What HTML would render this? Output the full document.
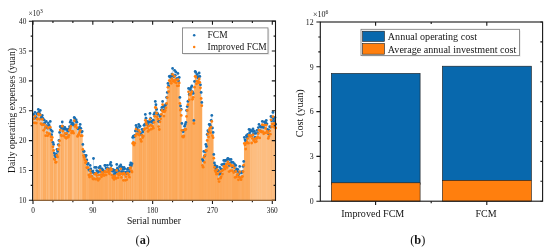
<!DOCTYPE html>
<html><head><meta charset="utf-8"><title>Figure</title>
<style>html,body{margin:0;padding:0;background:#fff}</style></head>
<body>
<svg width="550" height="250" viewBox="0 0 550 250" style="display:block">
<rect width="550" height="250" fill="#fff"/>
<path d="M33.66 114.40V118.81M34.33 118.53V122.83M34.99 112.40V116.21M35.66 116.81V122.77M36.32 117.92V123.12M36.99 114.18V119.14M37.65 113.25V118.79M38.32 109.40V113.91M38.98 111.77V114.79M39.65 113.72V119.32M40.31 110.40V114.92M40.98 118.06V123.53M41.64 116.49V124.59M42.31 115.40V119.38M42.97 118.37V124.87M43.64 123.83V130.37M44.30 120.06V124.61M44.96 122.84V128.43M45.63 127.30V135.63M46.29 121.40V126.28M46.96 125.60V132.52M47.62 128.05V135.67M48.29 123.01V128.00M48.95 125.24V133.68M49.62 127.76V134.21M50.28 121.40V127.16M50.95 129.80V136.73M51.61 134.71V140.04M52.28 131.40V137.40M52.94 142.32V146.83M53.61 144.40V150.40M54.27 153.10V159.08M54.94 155.40V159.73M55.60 156.94V162.35M56.26 154.17V162.09M56.93 149.40V155.40M57.59 151.44V157.10M58.26 144.52V149.45M58.92 140.40V145.47M59.59 132.45V140.85M60.25 126.40V130.02M60.92 127.19V135.08M61.58 128.10V135.82M62.25 122.00V126.23M62.91 126.28V131.20M63.58 129.48V135.61M64.24 128.71V136.13M64.91 127.40V133.40M65.57 129.23V137.69M66.23 133.82V138.37M66.90 129.40V133.46M67.56 131.12V136.80M68.23 131.08V137.14M68.89 128.80V135.41M69.56 126.55V130.14M70.22 122.16V128.71M70.89 120.40V126.40M71.55 124.88V132.91M72.22 123.00V131.19M72.88 123.61V131.69M73.55 124.84V133.13M74.21 117.40V120.67M74.88 118.39V126.43M75.54 121.05V125.54M76.21 120.00V124.76M76.87 122.22V127.74M77.53 128.14V136.40M78.20 128.81V135.14M78.86 128.95V133.89M79.53 127.13V132.19M80.19 124.40V130.40M80.86 128.32V135.85M81.52 131.89V135.65M82.19 131.40V135.77M82.85 144.40V149.45M83.52 151.42V155.61M84.18 151.40V157.40M84.85 155.50V159.73M85.51 156.69V162.86M86.18 155.40V161.40M86.84 159.92V167.59M87.51 164.33V167.87M88.17 163.40V167.54M88.83 169.66V174.93M89.50 170.47V177.03M90.16 165.40V170.53M90.83 168.90V173.28M91.49 171.35V176.24M92.16 172.33V176.45M92.82 171.07V178.81M93.49 158.50V179.00M94.15 173.36V178.62M94.82 167.29V174.14M95.48 173.36V179.22M96.15 167.40V173.29M96.81 170.53V175.55M97.48 172.61V178.29M98.14 171.89V180.31M98.81 167.73V175.04M99.47 171.14V178.70M100.13 166.40V170.08M100.80 168.74V174.51M101.46 171.80V176.81M102.13 168.97V172.46M102.79 170.04V175.21M103.46 170.81V174.21M104.12 171.32V175.61M104.79 165.40V171.40M105.45 165.36V172.13M106.12 168.12V174.96M106.78 168.29V171.72M107.45 165.30V169.20M108.11 168.57V171.69M108.78 168.90V172.44M109.44 170.31V173.87M110.11 164.40V170.40M110.77 162.40V168.40M111.43 165.52V169.64M112.10 170.82V175.22M112.76 169.43V177.72M113.43 171.40V177.40M114.09 174.41V179.44M114.76 170.20V175.77M115.42 173.12V177.62M116.09 172.28V178.49M116.75 164.40V170.40M117.42 168.19V174.03M118.08 170.14V177.65M118.75 171.49V175.11M119.41 166.68V173.00M120.08 166.05V174.49M120.74 165.00V168.82M121.41 171.69V177.41M122.07 167.24V173.70M122.73 169.48V174.33M123.40 171.95V180.26M124.06 167.40V173.07M124.73 168.76V174.39M125.39 172.40V180.37M126.06 173.57V176.66M126.72 171.93V179.71M127.39 169.40V173.11M128.05 168.40V173.49M128.72 169.08V174.77M129.38 171.57V177.19M130.05 165.03V168.25M130.71 163.00V167.74M131.38 165.64V170.60M132.04 163.74V172.00M132.70 137.40V143.40M133.37 136.08V142.30M134.03 136.94V145.07M134.70 135.48V143.23M135.36 130.93V136.00M136.03 125.40V129.04M136.69 127.49V133.83M137.36 129.08V133.86M138.02 131.31V134.36M138.69 124.40V130.40M139.35 126.68V135.01M140.02 126.17V132.12M140.68 133.02V139.42M141.35 134.80V141.48M142.01 129.40V135.40M142.68 131.99V137.56M143.34 129.88V136.09M144.00 125.31V129.56M144.67 124.39V128.72M145.33 114.40V120.27M146.00 118.13V122.39M146.66 121.22V124.38M147.33 123.17V128.19M147.99 125.40V131.40M148.66 121.67V126.19M149.32 122.17V129.92M149.99 113.40V119.40M150.65 118.37V124.96M151.32 121.26V129.17M151.98 122.10V125.51M152.65 122.40V126.38M153.31 120.17V128.17M153.98 114.28V122.27M154.64 112.86V116.29M155.30 101.40V107.40M155.97 104.75V107.83M156.63 109.48V113.23M157.30 113.25V116.85M157.96 114.40V119.02M158.63 121.46V126.59M159.29 121.49V129.50M159.96 116.40V121.80M160.62 115.10V118.78M161.29 109.98V114.48M161.95 107.36V110.39M162.62 101.40V104.55M163.28 106.27V111.64M163.95 110.24V116.05M164.61 107.48V111.85M165.28 105.40V110.49M165.94 104.20V107.77M166.60 97.40V103.40M167.27 92.40V97.56M167.93 83.40V87.29M168.60 85.83V91.57M169.26 76.40V80.55M169.93 76.23V80.84M170.59 77.36V81.04M171.26 76.07V83.37M171.92 74.12V78.66M172.59 68.40V74.40M173.25 76.07V81.30M173.92 76.60V80.46M174.58 70.40V76.40M175.25 75.26V82.29M175.91 71.94V79.78M176.58 79.13V82.86M177.24 78.50V85.84M177.90 73.40V79.40M178.57 81.00V85.68M179.23 77.40V82.90M179.90 97.40V103.40M180.56 105.89V110.24M181.23 109.40V115.40M181.89 123.44V130.28M182.56 130.40V136.40M183.22 131.74V137.21M183.89 130.08V135.94M184.55 126.17V130.24M185.22 124.40V129.13M185.88 122.41V129.42M186.55 110.40V116.40M187.21 106.60V110.44M187.88 101.40V104.68M188.54 88.40V91.77M189.20 94.43V99.82M189.87 88.90V94.90M190.53 90.12V94.36M191.20 87.40V93.02M191.86 85.90V91.73M192.53 91.67V99.28M193.19 93.40V97.30M193.86 120.40V123.48M194.52 81.40V87.19M195.19 71.40V76.35M195.85 72.44V77.04M196.52 76.53V83.78M197.18 74.45V81.20M197.85 77.82V81.28M198.51 76.60V82.62M199.17 73.00V79.00M199.84 76.40V82.40M200.50 84.87V87.87M201.17 92.40V98.40M201.83 102.40V105.64M202.50 159.40V165.40M203.16 160.86V167.15M203.83 151.40V157.40M204.49 155.93V162.41M205.16 151.54V154.92M205.82 144.40V150.40M206.49 146.43V150.83M207.15 134.40V140.40M207.82 130.69V133.86M208.48 132.12V136.91M209.15 124.40V130.40M209.81 124.50V128.36M210.47 126.11V132.67M211.14 120.27V127.11M211.80 115.40V121.40M212.47 127.88V135.70M213.13 132.40V137.67M213.80 154.40V158.18M214.46 162.90V167.33M215.13 165.40V170.54M215.79 168.63V171.93M216.46 167.25V174.15M217.12 166.40V169.75M217.79 170.40V173.72M218.45 170.88V179.01M219.12 174.17V181.61M219.78 167.40V171.80M220.45 173.35V178.23M221.11 169.17V176.71M221.77 164.60V171.00M222.44 169.65V174.10M223.10 164.48V169.94M223.77 160.40V166.40M224.43 163.85V166.85M225.10 160.50V168.96M225.76 160.26V166.37M226.43 160.23V164.23M227.09 159.98V167.38M227.76 158.40V161.82M228.42 158.87V164.12M229.09 165.40V171.55M229.75 159.62V163.98M230.42 162.76V170.63M231.08 159.40V165.40M231.75 162.02V165.91M232.41 166.86V170.70M233.07 162.40V165.74M233.74 166.43V172.57M234.40 163.84V167.87M235.07 171.46V177.45M235.73 165.40V171.40M236.40 168.92V176.76M237.06 171.30V174.94M237.73 169.40V174.23M238.39 174.57V179.87M239.06 172.08V177.19M239.72 166.40V171.70M240.39 172.24V177.77M241.05 172.48V179.64M241.72 172.50V177.18M242.38 171.42V176.31M243.05 166.40V171.55M243.71 161.40V165.23M244.37 137.40V143.40M245.04 139.82V145.02M245.70 140.96V149.00M246.37 135.64V143.16M247.03 137.47V141.74M247.70 134.28V138.62M248.36 135.94V143.24M249.03 129.40V135.40M249.69 132.67V135.72M250.36 129.99V136.45M251.02 130.68V135.85M251.69 135.68V143.00M252.35 131.28V138.38M253.02 129.00V135.00M253.68 133.67V140.51M254.35 131.25V139.27M255.01 137.50V142.06M255.67 133.40V138.26M256.34 138.17V141.50M257.00 130.45V138.22M257.67 133.11V136.96M258.33 127.56V133.59M259.00 124.40V130.20M259.66 130.41V137.88M260.33 126.48V131.61M260.99 127.01V130.79M261.66 126.93V132.04M262.32 121.40V124.66M262.99 127.03V131.68M263.65 127.38V133.85M264.32 121.91V125.22M264.98 124.48V132.92M265.64 122.47V128.42M266.31 120.40V125.05M266.97 123.85V131.43M267.64 129.45V133.21M268.30 133.63V138.40M268.97 130.40V136.40M269.63 126.72V131.04M270.30 127.15V134.18M270.96 116.40V119.85M271.63 120.80V126.73M272.29 117.30V123.92M272.96 112.40V116.55M273.62 119.09V123.89M274.29 121.27V127.30M274.95 117.40V123.40M275.62 124.15V128.00" stroke="#1f77b4" stroke-width="0.35" stroke-opacity="0.7" fill="none"/>
<path d="M33.26 118.81h0.8V200.4h-0.8zM33.93 122.83h0.8V200.4h-0.8zM34.59 116.21h0.8V200.4h-0.8zM35.26 122.77h0.8V200.4h-0.8zM35.92 123.12h0.8V200.4h-0.8zM36.59 119.14h0.8V200.4h-0.8zM37.25 118.79h0.8V200.4h-0.8zM37.92 113.91h0.8V200.4h-0.8zM38.58 114.79h0.8V200.4h-0.8zM39.25 119.32h0.8V200.4h-0.8zM39.91 114.92h0.8V200.4h-0.8zM40.58 123.53h0.8V200.4h-0.8zM41.24 124.59h0.8V200.4h-0.8zM41.91 119.38h0.8V200.4h-0.8zM42.57 124.87h0.8V200.4h-0.8zM43.24 130.37h0.8V200.4h-0.8zM43.90 124.61h0.8V200.4h-0.8zM44.56 128.43h0.8V200.4h-0.8zM45.23 135.63h0.8V200.4h-0.8zM45.89 126.28h0.8V200.4h-0.8zM46.56 132.52h0.8V200.4h-0.8zM47.22 135.67h0.8V200.4h-0.8zM47.89 128.00h0.8V200.4h-0.8zM48.55 133.68h0.8V200.4h-0.8zM49.22 134.21h0.8V200.4h-0.8zM49.88 127.16h0.8V200.4h-0.8zM50.55 136.73h0.8V200.4h-0.8zM51.21 140.04h0.8V200.4h-0.8zM51.88 137.40h0.8V200.4h-0.8zM52.54 146.83h0.8V200.4h-0.8zM53.21 150.40h0.8V200.4h-0.8zM53.87 159.08h0.8V200.4h-0.8zM54.54 159.73h0.8V200.4h-0.8zM55.20 162.35h0.8V200.4h-0.8zM55.86 162.09h0.8V200.4h-0.8zM56.53 155.40h0.8V200.4h-0.8zM57.19 157.10h0.8V200.4h-0.8zM57.86 149.45h0.8V200.4h-0.8zM58.52 145.47h0.8V200.4h-0.8zM59.19 140.85h0.8V200.4h-0.8zM59.85 130.02h0.8V200.4h-0.8zM60.52 135.08h0.8V200.4h-0.8zM61.18 135.82h0.8V200.4h-0.8zM61.85 126.23h0.8V200.4h-0.8zM62.51 131.20h0.8V200.4h-0.8zM63.18 135.61h0.8V200.4h-0.8zM63.84 136.13h0.8V200.4h-0.8zM64.51 133.40h0.8V200.4h-0.8zM65.17 137.69h0.8V200.4h-0.8zM65.83 138.37h0.8V200.4h-0.8zM66.50 133.46h0.8V200.4h-0.8zM67.16 136.80h0.8V200.4h-0.8zM67.83 137.14h0.8V200.4h-0.8zM68.49 135.41h0.8V200.4h-0.8zM69.16 130.14h0.8V200.4h-0.8zM69.82 128.71h0.8V200.4h-0.8zM70.49 126.40h0.8V200.4h-0.8zM71.15 132.91h0.8V200.4h-0.8zM71.82 131.19h0.8V200.4h-0.8zM72.48 131.69h0.8V200.4h-0.8zM73.15 133.13h0.8V200.4h-0.8zM73.81 120.67h0.8V200.4h-0.8zM74.48 126.43h0.8V200.4h-0.8zM75.14 125.54h0.8V200.4h-0.8zM75.81 124.76h0.8V200.4h-0.8zM76.47 127.74h0.8V200.4h-0.8zM77.13 136.40h0.8V200.4h-0.8zM77.80 135.14h0.8V200.4h-0.8zM78.46 133.89h0.8V200.4h-0.8zM79.13 132.19h0.8V200.4h-0.8zM79.79 130.40h0.8V200.4h-0.8zM80.46 135.85h0.8V200.4h-0.8zM81.12 135.65h0.8V200.4h-0.8zM81.79 135.77h0.8V200.4h-0.8zM82.45 149.45h0.8V200.4h-0.8zM83.12 155.61h0.8V200.4h-0.8zM83.78 157.40h0.8V200.4h-0.8zM84.45 159.73h0.8V200.4h-0.8zM85.11 162.86h0.8V200.4h-0.8zM85.78 161.40h0.8V200.4h-0.8zM86.44 167.59h0.8V200.4h-0.8zM87.11 167.87h0.8V200.4h-0.8zM87.77 167.54h0.8V200.4h-0.8zM88.43 174.93h0.8V200.4h-0.8zM89.10 177.03h0.8V200.4h-0.8zM89.76 170.53h0.8V200.4h-0.8zM90.43 173.28h0.8V200.4h-0.8zM91.09 176.24h0.8V200.4h-0.8zM91.76 176.45h0.8V200.4h-0.8zM92.42 178.81h0.8V200.4h-0.8zM93.09 179.00h0.8V200.4h-0.8zM93.75 178.62h0.8V200.4h-0.8zM94.42 174.14h0.8V200.4h-0.8zM95.08 179.22h0.8V200.4h-0.8zM95.75 173.29h0.8V200.4h-0.8zM96.41 175.55h0.8V200.4h-0.8zM97.08 178.29h0.8V200.4h-0.8zM97.74 180.31h0.8V200.4h-0.8zM98.41 175.04h0.8V200.4h-0.8zM99.07 178.70h0.8V200.4h-0.8zM99.73 170.08h0.8V200.4h-0.8zM100.40 174.51h0.8V200.4h-0.8zM101.06 176.81h0.8V200.4h-0.8zM101.73 172.46h0.8V200.4h-0.8zM102.39 175.21h0.8V200.4h-0.8zM103.06 174.21h0.8V200.4h-0.8zM103.72 175.61h0.8V200.4h-0.8zM104.39 171.40h0.8V200.4h-0.8zM105.05 172.13h0.8V200.4h-0.8zM105.72 174.96h0.8V200.4h-0.8zM106.38 171.72h0.8V200.4h-0.8zM107.05 169.20h0.8V200.4h-0.8zM107.71 171.69h0.8V200.4h-0.8zM108.38 172.44h0.8V200.4h-0.8zM109.04 173.87h0.8V200.4h-0.8zM109.71 170.40h0.8V200.4h-0.8zM110.37 168.40h0.8V200.4h-0.8zM111.03 169.64h0.8V200.4h-0.8zM111.70 175.22h0.8V200.4h-0.8zM112.36 177.72h0.8V200.4h-0.8zM113.03 177.40h0.8V200.4h-0.8zM113.69 179.44h0.8V200.4h-0.8zM114.36 175.77h0.8V200.4h-0.8zM115.02 177.62h0.8V200.4h-0.8zM115.69 178.49h0.8V200.4h-0.8zM116.35 170.40h0.8V200.4h-0.8zM117.02 174.03h0.8V200.4h-0.8zM117.68 177.65h0.8V200.4h-0.8zM118.35 175.11h0.8V200.4h-0.8zM119.01 173.00h0.8V200.4h-0.8zM119.68 174.49h0.8V200.4h-0.8zM120.34 168.82h0.8V200.4h-0.8zM121.01 177.41h0.8V200.4h-0.8zM121.67 173.70h0.8V200.4h-0.8zM122.33 174.33h0.8V200.4h-0.8zM123.00 180.26h0.8V200.4h-0.8zM123.66 173.07h0.8V200.4h-0.8zM124.33 174.39h0.8V200.4h-0.8zM124.99 180.37h0.8V200.4h-0.8zM125.66 176.66h0.8V200.4h-0.8zM126.32 179.71h0.8V200.4h-0.8zM126.99 173.11h0.8V200.4h-0.8zM127.65 173.49h0.8V200.4h-0.8zM128.32 174.77h0.8V200.4h-0.8zM128.98 177.19h0.8V200.4h-0.8zM129.65 168.25h0.8V200.4h-0.8zM130.31 167.74h0.8V200.4h-0.8zM130.98 170.60h0.8V200.4h-0.8zM131.64 172.00h0.8V200.4h-0.8zM132.30 143.40h0.8V200.4h-0.8zM132.97 142.30h0.8V200.4h-0.8zM133.63 145.07h0.8V200.4h-0.8zM134.30 143.23h0.8V200.4h-0.8zM134.96 136.00h0.8V200.4h-0.8zM135.63 129.04h0.8V200.4h-0.8zM136.29 133.83h0.8V200.4h-0.8zM136.96 133.86h0.8V200.4h-0.8zM137.62 134.36h0.8V200.4h-0.8zM138.29 130.40h0.8V200.4h-0.8zM138.95 135.01h0.8V200.4h-0.8zM139.62 132.12h0.8V200.4h-0.8zM140.28 139.42h0.8V200.4h-0.8zM140.95 141.48h0.8V200.4h-0.8zM141.61 135.40h0.8V200.4h-0.8zM142.28 137.56h0.8V200.4h-0.8zM142.94 136.09h0.8V200.4h-0.8zM143.60 129.56h0.8V200.4h-0.8zM144.27 128.72h0.8V200.4h-0.8zM144.93 120.27h0.8V200.4h-0.8zM145.60 122.39h0.8V200.4h-0.8zM146.26 124.38h0.8V200.4h-0.8zM146.93 128.19h0.8V200.4h-0.8zM147.59 131.40h0.8V200.4h-0.8zM148.26 126.19h0.8V200.4h-0.8zM148.92 129.92h0.8V200.4h-0.8zM149.59 119.40h0.8V200.4h-0.8zM150.25 124.96h0.8V200.4h-0.8zM150.92 129.17h0.8V200.4h-0.8zM151.58 125.51h0.8V200.4h-0.8zM152.25 126.38h0.8V200.4h-0.8zM152.91 128.17h0.8V200.4h-0.8zM153.58 122.27h0.8V200.4h-0.8zM154.24 116.29h0.8V200.4h-0.8zM154.90 107.40h0.8V200.4h-0.8zM155.57 107.83h0.8V200.4h-0.8zM156.23 113.23h0.8V200.4h-0.8zM156.90 116.85h0.8V200.4h-0.8zM157.56 119.02h0.8V200.4h-0.8zM158.23 126.59h0.8V200.4h-0.8zM158.89 129.50h0.8V200.4h-0.8zM159.56 121.80h0.8V200.4h-0.8zM160.22 118.78h0.8V200.4h-0.8zM160.89 114.48h0.8V200.4h-0.8zM161.55 110.39h0.8V200.4h-0.8zM162.22 104.55h0.8V200.4h-0.8zM162.88 111.64h0.8V200.4h-0.8zM163.55 116.05h0.8V200.4h-0.8zM164.21 111.85h0.8V200.4h-0.8zM164.88 110.49h0.8V200.4h-0.8zM165.54 107.77h0.8V200.4h-0.8zM166.20 103.40h0.8V200.4h-0.8zM166.87 97.56h0.8V200.4h-0.8zM167.53 87.29h0.8V200.4h-0.8zM168.20 91.57h0.8V200.4h-0.8zM168.86 80.55h0.8V200.4h-0.8zM169.53 80.84h0.8V200.4h-0.8zM170.19 81.04h0.8V200.4h-0.8zM170.86 83.37h0.8V200.4h-0.8zM171.52 78.66h0.8V200.4h-0.8zM172.19 74.40h0.8V200.4h-0.8zM172.85 81.30h0.8V200.4h-0.8zM173.52 80.46h0.8V200.4h-0.8zM174.18 76.40h0.8V200.4h-0.8zM174.85 82.29h0.8V200.4h-0.8zM175.51 79.78h0.8V200.4h-0.8zM176.18 82.86h0.8V200.4h-0.8zM176.84 85.84h0.8V200.4h-0.8zM177.50 79.40h0.8V200.4h-0.8zM178.17 85.68h0.8V200.4h-0.8zM178.83 82.90h0.8V200.4h-0.8zM179.50 103.40h0.8V200.4h-0.8zM180.16 110.24h0.8V200.4h-0.8zM180.83 115.40h0.8V200.4h-0.8zM181.49 130.28h0.8V200.4h-0.8zM182.16 136.40h0.8V200.4h-0.8zM182.82 137.21h0.8V200.4h-0.8zM183.49 135.94h0.8V200.4h-0.8zM184.15 130.24h0.8V200.4h-0.8zM184.82 129.13h0.8V200.4h-0.8zM185.48 129.42h0.8V200.4h-0.8zM186.15 116.40h0.8V200.4h-0.8zM186.81 110.44h0.8V200.4h-0.8zM187.48 104.68h0.8V200.4h-0.8zM188.14 91.77h0.8V200.4h-0.8zM188.80 99.82h0.8V200.4h-0.8zM189.47 94.90h0.8V200.4h-0.8zM190.13 94.36h0.8V200.4h-0.8zM190.80 93.02h0.8V200.4h-0.8zM191.46 91.73h0.8V200.4h-0.8zM192.13 99.28h0.8V200.4h-0.8zM192.79 97.30h0.8V200.4h-0.8zM193.46 123.48h0.8V200.4h-0.8zM194.12 87.19h0.8V200.4h-0.8zM194.79 76.35h0.8V200.4h-0.8zM195.45 77.04h0.8V200.4h-0.8zM196.12 83.78h0.8V200.4h-0.8zM196.78 81.20h0.8V200.4h-0.8zM197.45 81.28h0.8V200.4h-0.8zM198.11 82.62h0.8V200.4h-0.8zM198.77 79.00h0.8V200.4h-0.8zM199.44 82.40h0.8V200.4h-0.8zM200.10 87.87h0.8V200.4h-0.8zM200.77 98.40h0.8V200.4h-0.8zM201.43 105.64h0.8V200.4h-0.8zM202.10 165.40h0.8V200.4h-0.8zM202.76 167.15h0.8V200.4h-0.8zM203.43 157.40h0.8V200.4h-0.8zM204.09 162.41h0.8V200.4h-0.8zM204.76 154.92h0.8V200.4h-0.8zM205.42 150.40h0.8V200.4h-0.8zM206.09 150.83h0.8V200.4h-0.8zM206.75 140.40h0.8V200.4h-0.8zM207.42 133.86h0.8V200.4h-0.8zM208.08 136.91h0.8V200.4h-0.8zM208.75 130.40h0.8V200.4h-0.8zM209.41 128.36h0.8V200.4h-0.8zM210.07 132.67h0.8V200.4h-0.8zM210.74 127.11h0.8V200.4h-0.8zM211.40 121.40h0.8V200.4h-0.8zM212.07 135.70h0.8V200.4h-0.8zM212.73 137.67h0.8V200.4h-0.8zM213.40 158.18h0.8V200.4h-0.8zM214.06 167.33h0.8V200.4h-0.8zM214.73 170.54h0.8V200.4h-0.8zM215.39 171.93h0.8V200.4h-0.8zM216.06 174.15h0.8V200.4h-0.8zM216.72 169.75h0.8V200.4h-0.8zM217.39 173.72h0.8V200.4h-0.8zM218.05 179.01h0.8V200.4h-0.8zM218.72 181.61h0.8V200.4h-0.8zM219.38 171.80h0.8V200.4h-0.8zM220.05 178.23h0.8V200.4h-0.8zM220.71 176.71h0.8V200.4h-0.8zM221.37 171.00h0.8V200.4h-0.8zM222.04 174.10h0.8V200.4h-0.8zM222.70 169.94h0.8V200.4h-0.8zM223.37 166.40h0.8V200.4h-0.8zM224.03 166.85h0.8V200.4h-0.8zM224.70 168.96h0.8V200.4h-0.8zM225.36 166.37h0.8V200.4h-0.8zM226.03 164.23h0.8V200.4h-0.8zM226.69 167.38h0.8V200.4h-0.8zM227.36 161.82h0.8V200.4h-0.8zM228.02 164.12h0.8V200.4h-0.8zM228.69 171.55h0.8V200.4h-0.8zM229.35 163.98h0.8V200.4h-0.8zM230.02 170.63h0.8V200.4h-0.8zM230.68 165.40h0.8V200.4h-0.8zM231.35 165.91h0.8V200.4h-0.8zM232.01 170.70h0.8V200.4h-0.8zM232.67 165.74h0.8V200.4h-0.8zM233.34 172.57h0.8V200.4h-0.8zM234.00 167.87h0.8V200.4h-0.8zM234.67 177.45h0.8V200.4h-0.8zM235.33 171.40h0.8V200.4h-0.8zM236.00 176.76h0.8V200.4h-0.8zM236.66 174.94h0.8V200.4h-0.8zM237.33 174.23h0.8V200.4h-0.8zM237.99 179.87h0.8V200.4h-0.8zM238.66 177.19h0.8V200.4h-0.8zM239.32 171.70h0.8V200.4h-0.8zM239.99 177.77h0.8V200.4h-0.8zM240.65 179.64h0.8V200.4h-0.8zM241.32 177.18h0.8V200.4h-0.8zM241.98 176.31h0.8V200.4h-0.8zM242.65 171.55h0.8V200.4h-0.8zM243.31 165.23h0.8V200.4h-0.8zM243.97 143.40h0.8V200.4h-0.8zM244.64 145.02h0.8V200.4h-0.8zM245.30 149.00h0.8V200.4h-0.8zM245.97 143.16h0.8V200.4h-0.8zM246.63 141.74h0.8V200.4h-0.8zM247.30 138.62h0.8V200.4h-0.8zM247.96 143.24h0.8V200.4h-0.8zM248.63 135.40h0.8V200.4h-0.8zM249.29 135.72h0.8V200.4h-0.8zM249.96 136.45h0.8V200.4h-0.8zM250.62 135.85h0.8V200.4h-0.8zM251.29 143.00h0.8V200.4h-0.8zM251.95 138.38h0.8V200.4h-0.8zM252.62 135.00h0.8V200.4h-0.8zM253.28 140.51h0.8V200.4h-0.8zM253.95 139.27h0.8V200.4h-0.8zM254.61 142.06h0.8V200.4h-0.8zM255.27 138.26h0.8V200.4h-0.8zM255.94 141.50h0.8V200.4h-0.8zM256.60 138.22h0.8V200.4h-0.8zM257.27 136.96h0.8V200.4h-0.8zM257.93 133.59h0.8V200.4h-0.8zM258.60 130.20h0.8V200.4h-0.8zM259.26 137.88h0.8V200.4h-0.8zM259.93 131.61h0.8V200.4h-0.8zM260.59 130.79h0.8V200.4h-0.8zM261.26 132.04h0.8V200.4h-0.8zM261.92 124.66h0.8V200.4h-0.8zM262.59 131.68h0.8V200.4h-0.8zM263.25 133.85h0.8V200.4h-0.8zM263.92 125.22h0.8V200.4h-0.8zM264.58 132.92h0.8V200.4h-0.8zM265.25 128.42h0.8V200.4h-0.8zM265.91 125.05h0.8V200.4h-0.8zM266.57 131.43h0.8V200.4h-0.8zM267.24 133.21h0.8V200.4h-0.8zM267.90 138.40h0.8V200.4h-0.8zM268.57 136.40h0.8V200.4h-0.8zM269.23 131.04h0.8V200.4h-0.8zM269.90 134.18h0.8V200.4h-0.8zM270.56 119.85h0.8V200.4h-0.8zM271.23 126.73h0.8V200.4h-0.8zM271.89 123.92h0.8V200.4h-0.8zM272.56 116.55h0.8V200.4h-0.8zM273.22 123.89h0.8V200.4h-0.8zM273.89 127.30h0.8V200.4h-0.8zM274.55 123.40h0.8V200.4h-0.8zM275.22 128.00h0.8V200.4h-0.8z" fill="#fca756"/>
<path d="M37.31 118.79h0.68V200.4h-0.68zM43.30 130.37h0.68V200.4h-0.68zM44.62 128.43h0.68V200.4h-0.68zM45.29 135.63h0.68V200.4h-0.68zM48.61 133.68h0.68V200.4h-0.68zM50.61 136.73h0.68V200.4h-0.68zM51.94 137.40h0.68V200.4h-0.68zM52.60 146.83h0.68V200.4h-0.68zM53.93 159.08h0.68V200.4h-0.68zM55.92 162.09h0.68V200.4h-0.68zM57.92 149.45h0.68V200.4h-0.68zM59.25 140.85h0.68V200.4h-0.68zM60.58 135.08h0.68V200.4h-0.68zM61.24 135.82h0.68V200.4h-0.68zM65.23 137.69h0.68V200.4h-0.68zM67.89 137.14h0.68V200.4h-0.68zM69.88 128.71h0.68V200.4h-0.68zM70.55 126.40h0.68V200.4h-0.68zM77.86 135.14h0.68V200.4h-0.68zM82.51 149.45h0.68V200.4h-0.68zM84.51 159.73h0.68V200.4h-0.68zM85.84 161.40h0.68V200.4h-0.68zM87.17 167.87h0.68V200.4h-0.68zM89.16 177.03h0.68V200.4h-0.68zM90.49 173.28h0.68V200.4h-0.68zM91.82 176.45h0.68V200.4h-0.68zM93.15 179.00h0.68V200.4h-0.68zM93.81 178.62h0.68V200.4h-0.68zM95.81 173.29h0.68V200.4h-0.68zM97.80 180.31h0.68V200.4h-0.68zM100.46 174.51h0.68V200.4h-0.68zM101.79 172.46h0.68V200.4h-0.68zM103.12 174.21h0.68V200.4h-0.68zM103.78 175.61h0.68V200.4h-0.68zM104.45 171.40h0.68V200.4h-0.68zM105.78 174.96h0.68V200.4h-0.68zM107.11 169.20h0.68V200.4h-0.68zM107.77 171.69h0.68V200.4h-0.68zM109.77 170.40h0.68V200.4h-0.68zM113.09 177.40h0.68V200.4h-0.68zM115.75 178.49h0.68V200.4h-0.68zM117.08 174.03h0.68V200.4h-0.68zM119.74 174.49h0.68V200.4h-0.68zM121.73 173.70h0.68V200.4h-0.68zM123.72 173.07h0.68V200.4h-0.68zM127.05 173.11h0.68V200.4h-0.68zM129.71 168.25h0.68V200.4h-0.68zM132.36 143.40h0.68V200.4h-0.68zM136.35 133.83h0.68V200.4h-0.68zM137.02 133.86h0.68V200.4h-0.68zM138.35 130.40h0.68V200.4h-0.68zM140.34 139.42h0.68V200.4h-0.68zM143.66 129.56h0.68V200.4h-0.68zM144.33 128.72h0.68V200.4h-0.68zM144.99 120.27h0.68V200.4h-0.68zM145.66 122.39h0.68V200.4h-0.68zM146.99 128.19h0.68V200.4h-0.68zM147.65 131.40h0.68V200.4h-0.68zM148.32 126.19h0.68V200.4h-0.68zM149.65 119.40h0.68V200.4h-0.68zM150.31 124.96h0.68V200.4h-0.68zM152.31 126.38h0.68V200.4h-0.68zM153.64 122.27h0.68V200.4h-0.68zM154.96 107.40h0.68V200.4h-0.68zM163.61 116.05h0.68V200.4h-0.68zM164.27 111.85h0.68V200.4h-0.68zM168.92 80.55h0.68V200.4h-0.68zM170.25 81.04h0.68V200.4h-0.68zM172.25 74.40h0.68V200.4h-0.68zM172.91 81.30h0.68V200.4h-0.68zM174.24 76.40h0.68V200.4h-0.68zM174.91 82.29h0.68V200.4h-0.68zM178.89 82.90h0.68V200.4h-0.68zM179.56 103.40h0.68V200.4h-0.68zM181.55 130.28h0.68V200.4h-0.68zM182.22 136.40h0.68V200.4h-0.68zM183.55 135.94h0.68V200.4h-0.68zM184.21 130.24h0.68V200.4h-0.68zM185.54 129.42h0.68V200.4h-0.68zM186.21 116.40h0.68V200.4h-0.68zM188.20 91.77h0.68V200.4h-0.68zM188.86 99.82h0.68V200.4h-0.68zM189.53 94.90h0.68V200.4h-0.68zM190.19 94.36h0.68V200.4h-0.68zM192.19 99.28h0.68V200.4h-0.68zM194.18 87.19h0.68V200.4h-0.68zM194.85 76.35h0.68V200.4h-0.68zM195.51 77.04h0.68V200.4h-0.68zM196.18 83.78h0.68V200.4h-0.68zM196.84 81.20h0.68V200.4h-0.68zM197.51 81.28h0.68V200.4h-0.68zM198.17 82.62h0.68V200.4h-0.68zM199.50 82.40h0.68V200.4h-0.68zM200.83 98.40h0.68V200.4h-0.68zM203.49 157.40h0.68V200.4h-0.68zM204.15 162.41h0.68V200.4h-0.68zM205.48 150.40h0.68V200.4h-0.68zM206.15 150.83h0.68V200.4h-0.68zM206.81 140.40h0.68V200.4h-0.68zM207.48 133.86h0.68V200.4h-0.68zM208.81 130.40h0.68V200.4h-0.68zM210.13 132.67h0.68V200.4h-0.68zM210.80 127.11h0.68V200.4h-0.68zM212.13 135.70h0.68V200.4h-0.68zM213.46 158.18h0.68V200.4h-0.68zM214.12 167.33h0.68V200.4h-0.68zM216.12 174.15h0.68V200.4h-0.68zM218.78 181.61h0.68V200.4h-0.68zM219.44 171.80h0.68V200.4h-0.68zM220.77 176.71h0.68V200.4h-0.68zM222.10 174.10h0.68V200.4h-0.68zM222.76 169.94h0.68V200.4h-0.68zM224.09 166.85h0.68V200.4h-0.68zM224.76 168.96h0.68V200.4h-0.68zM225.42 166.37h0.68V200.4h-0.68zM226.09 164.23h0.68V200.4h-0.68zM227.42 161.82h0.68V200.4h-0.68zM228.08 164.12h0.68V200.4h-0.68zM228.75 171.55h0.68V200.4h-0.68zM229.41 163.98h0.68V200.4h-0.68zM230.08 170.63h0.68V200.4h-0.68zM230.74 165.40h0.68V200.4h-0.68zM240.05 177.77h0.68V200.4h-0.68zM242.71 171.55h0.68V200.4h-0.68zM244.03 143.40h0.68V200.4h-0.68zM244.70 145.02h0.68V200.4h-0.68zM245.36 149.00h0.68V200.4h-0.68zM246.03 143.16h0.68V200.4h-0.68zM247.36 138.62h0.68V200.4h-0.68z" fill="#fff" fill-opacity="0.05"/>
<path d="M33.32 118.81h0.68V200.4h-0.68zM33.99 122.83h0.68V200.4h-0.68zM35.32 122.77h0.68V200.4h-0.68zM35.98 123.12h0.68V200.4h-0.68zM36.65 119.14h0.68V200.4h-0.68zM37.98 113.91h0.68V200.4h-0.68zM39.31 119.32h0.68V200.4h-0.68zM41.30 124.59h0.68V200.4h-0.68zM42.63 124.87h0.68V200.4h-0.68zM43.96 124.61h0.68V200.4h-0.68zM46.62 132.52h0.68V200.4h-0.68zM47.28 135.67h0.68V200.4h-0.68zM49.94 127.16h0.68V200.4h-0.68zM51.27 140.04h0.68V200.4h-0.68zM54.60 159.73h0.68V200.4h-0.68zM55.26 162.35h0.68V200.4h-0.68zM58.58 145.47h0.68V200.4h-0.68zM61.91 126.23h0.68V200.4h-0.68zM62.57 131.20h0.68V200.4h-0.68zM63.24 135.61h0.68V200.4h-0.68zM65.89 138.37h0.68V200.4h-0.68zM68.55 135.41h0.68V200.4h-0.68zM69.22 130.14h0.68V200.4h-0.68zM71.21 132.91h0.68V200.4h-0.68zM73.87 120.67h0.68V200.4h-0.68zM75.20 125.54h0.68V200.4h-0.68zM76.53 127.74h0.68V200.4h-0.68zM78.52 133.89h0.68V200.4h-0.68zM80.52 135.85h0.68V200.4h-0.68zM81.85 135.77h0.68V200.4h-0.68zM231.41 165.91h0.68V200.4h-0.68zM238.72 177.19h0.68V200.4h-0.68z" fill="#fff" fill-opacity="0.10"/>
<path d="M111.09 169.64h0.68V200.4h-0.68zM129.04 177.19h0.68V200.4h-0.68zM134.36 143.23h0.68V200.4h-0.68zM159.62 121.80h0.68V200.4h-0.68zM166.93 97.56h0.68V200.4h-0.68zM170.92 83.37h0.68V200.4h-0.68zM178.23 85.68h0.68V200.4h-0.68zM186.87 110.44h0.68V200.4h-0.68zM193.52 123.48h0.68V200.4h-0.68zM240.71 179.64h0.68V200.4h-0.68zM248.69 135.40h0.68V200.4h-0.68z" fill="#fff" fill-opacity="0.15"/>
<path d="M86.50 167.59h0.68V200.4h-0.68zM87.83 167.54h0.68V200.4h-0.68zM108.44 172.44h0.68V200.4h-0.68zM115.08 177.62h0.68V200.4h-0.68zM117.74 177.65h0.68V200.4h-0.68zM123.06 180.26h0.68V200.4h-0.68zM125.05 180.37h0.68V200.4h-0.68zM127.71 173.49h0.68V200.4h-0.68zM131.04 170.60h0.68V200.4h-0.68zM133.03 142.30h0.68V200.4h-0.68zM135.69 129.04h0.68V200.4h-0.68zM137.68 134.36h0.68V200.4h-0.68zM142.34 137.56h0.68V200.4h-0.68zM146.32 124.38h0.68V200.4h-0.68zM156.96 116.85h0.68V200.4h-0.68zM161.61 110.39h0.68V200.4h-0.68zM162.94 111.64h0.68V200.4h-0.68zM165.60 107.77h0.68V200.4h-0.68zM168.26 91.57h0.68V200.4h-0.68zM177.56 79.40h0.68V200.4h-0.68zM182.88 137.21h0.68V200.4h-0.68zM251.35 143.00h0.68V200.4h-0.68zM271.29 126.73h0.68V200.4h-0.68z" fill="#fff" fill-opacity="0.20"/>
<path d="M250.02 136.45h0.68V200.4h-0.68zM250.68 135.85h0.68V200.4h-0.68zM252.01 138.38h0.68V200.4h-0.68zM252.68 135.00h0.68V200.4h-0.68zM253.34 140.51h0.68V200.4h-0.68zM254.01 139.27h0.68V200.4h-0.68zM254.67 142.06h0.68V200.4h-0.68zM255.33 138.26h0.68V200.4h-0.68zM256.66 138.22h0.68V200.4h-0.68zM257.99 133.59h0.68V200.4h-0.68zM259.99 131.61h0.68V200.4h-0.68zM260.65 130.79h0.68V200.4h-0.68zM261.98 124.66h0.68V200.4h-0.68zM262.65 131.68h0.68V200.4h-0.68zM263.31 133.85h0.68V200.4h-0.68zM263.98 125.22h0.68V200.4h-0.68zM264.64 132.92h0.68V200.4h-0.68zM265.31 128.42h0.68V200.4h-0.68zM266.63 131.43h0.68V200.4h-0.68zM267.96 138.40h0.68V200.4h-0.68zM268.63 136.40h0.68V200.4h-0.68zM269.29 131.04h0.68V200.4h-0.68zM269.96 134.18h0.68V200.4h-0.68zM270.62 119.85h0.68V200.4h-0.68zM271.95 123.92h0.68V200.4h-0.68zM273.28 123.89h0.68V200.4h-0.68zM273.95 127.30h0.68V200.4h-0.68zM274.61 123.40h0.68V200.4h-0.68zM275.28 128.00h0.68V200.4h-0.68z" fill="#fff" fill-opacity="0.25"/>
<path d="M34.65 116.21h0.68V200.4h-0.68zM38.64 114.79h0.68V200.4h-0.68zM39.97 114.92h0.68V200.4h-0.68zM40.64 123.53h0.68V200.4h-0.68zM41.97 119.38h0.68V200.4h-0.68zM45.95 126.28h0.68V200.4h-0.68zM47.95 128.00h0.68V200.4h-0.68zM49.28 134.21h0.68V200.4h-0.68zM56.59 155.40h0.68V200.4h-0.68zM57.25 157.10h0.68V200.4h-0.68zM63.90 136.13h0.68V200.4h-0.68zM64.57 133.40h0.68V200.4h-0.68zM66.56 133.46h0.68V200.4h-0.68zM67.22 136.80h0.68V200.4h-0.68zM71.88 131.19h0.68V200.4h-0.68zM72.54 131.69h0.68V200.4h-0.68zM74.54 126.43h0.68V200.4h-0.68zM75.87 124.76h0.68V200.4h-0.68zM77.19 136.40h0.68V200.4h-0.68zM79.19 132.19h0.68V200.4h-0.68zM79.85 130.40h0.68V200.4h-0.68zM81.18 135.65h0.68V200.4h-0.68zM256.00 141.50h0.68V200.4h-0.68zM259.32 137.88h0.68V200.4h-0.68zM267.30 133.21h0.68V200.4h-0.68z" fill="#fff" fill-opacity="0.30"/>
<path d="M53.27 150.40h0.68V200.4h-0.68zM59.91 130.02h0.68V200.4h-0.68zM73.21 133.13h0.68V200.4h-0.68zM257.33 136.96h0.68V200.4h-0.68zM258.66 130.20h0.68V200.4h-0.68zM261.32 132.04h0.68V200.4h-0.68zM265.97 125.05h0.68V200.4h-0.68zM272.62 116.55h0.68V200.4h-0.68z" fill="#fff" fill-opacity="0.35"/>
<g fill="#1a6fb3">
<circle cx="33.66" cy="114.40" r="1.38"/>
<circle cx="34.33" cy="118.53" r="1.38"/>
<circle cx="34.99" cy="112.40" r="1.38"/>
<circle cx="35.66" cy="116.81" r="1.38"/>
<circle cx="36.32" cy="117.92" r="1.38"/>
<circle cx="36.99" cy="114.18" r="1.38"/>
<circle cx="37.65" cy="113.25" r="1.38"/>
<circle cx="38.32" cy="109.40" r="1.38"/>
<circle cx="38.98" cy="111.77" r="1.38"/>
<circle cx="39.65" cy="113.72" r="1.38"/>
<circle cx="40.31" cy="110.40" r="1.38"/>
<circle cx="40.98" cy="118.06" r="1.38"/>
<circle cx="41.64" cy="116.49" r="1.38"/>
<circle cx="42.31" cy="115.40" r="1.38"/>
<circle cx="42.97" cy="118.37" r="1.38"/>
<circle cx="43.64" cy="123.83" r="1.38"/>
<circle cx="44.30" cy="120.06" r="1.38"/>
<circle cx="44.96" cy="122.84" r="1.38"/>
<circle cx="45.63" cy="127.30" r="1.38"/>
<circle cx="46.29" cy="121.40" r="1.38"/>
<circle cx="46.96" cy="125.60" r="1.38"/>
<circle cx="47.62" cy="128.05" r="1.38"/>
<circle cx="48.29" cy="123.01" r="1.38"/>
<circle cx="48.95" cy="125.24" r="1.38"/>
<circle cx="49.62" cy="127.76" r="1.38"/>
<circle cx="50.28" cy="121.40" r="1.38"/>
<circle cx="50.95" cy="129.80" r="1.38"/>
<circle cx="51.61" cy="134.71" r="1.38"/>
<circle cx="52.28" cy="131.40" r="1.38"/>
<circle cx="52.94" cy="142.32" r="1.38"/>
<circle cx="53.61" cy="144.40" r="1.38"/>
<circle cx="54.27" cy="153.10" r="1.38"/>
<circle cx="54.94" cy="155.40" r="1.38"/>
<circle cx="55.60" cy="156.94" r="1.38"/>
<circle cx="56.26" cy="154.17" r="1.38"/>
<circle cx="56.93" cy="149.40" r="1.38"/>
<circle cx="57.59" cy="151.44" r="1.38"/>
<circle cx="58.26" cy="144.52" r="1.38"/>
<circle cx="58.92" cy="140.40" r="1.38"/>
<circle cx="59.59" cy="132.45" r="1.38"/>
<circle cx="60.25" cy="126.40" r="1.38"/>
<circle cx="60.92" cy="127.19" r="1.38"/>
<circle cx="61.58" cy="128.10" r="1.38"/>
<circle cx="62.25" cy="122.00" r="1.38"/>
<circle cx="62.91" cy="126.28" r="1.38"/>
<circle cx="63.58" cy="129.48" r="1.38"/>
<circle cx="64.24" cy="128.71" r="1.38"/>
<circle cx="64.91" cy="127.40" r="1.38"/>
<circle cx="65.57" cy="129.23" r="1.38"/>
<circle cx="66.23" cy="133.82" r="1.38"/>
<circle cx="66.90" cy="129.40" r="1.38"/>
<circle cx="67.56" cy="131.12" r="1.38"/>
<circle cx="68.23" cy="131.08" r="1.38"/>
<circle cx="68.89" cy="128.80" r="1.38"/>
<circle cx="69.56" cy="126.55" r="1.38"/>
<circle cx="70.22" cy="122.16" r="1.38"/>
<circle cx="70.89" cy="120.40" r="1.38"/>
<circle cx="71.55" cy="124.88" r="1.38"/>
<circle cx="72.22" cy="123.00" r="1.38"/>
<circle cx="72.88" cy="123.61" r="1.38"/>
<circle cx="73.55" cy="124.84" r="1.38"/>
<circle cx="74.21" cy="117.40" r="1.38"/>
<circle cx="74.88" cy="118.39" r="1.38"/>
<circle cx="75.54" cy="121.05" r="1.38"/>
<circle cx="76.21" cy="120.00" r="1.38"/>
<circle cx="76.87" cy="122.22" r="1.38"/>
<circle cx="77.53" cy="128.14" r="1.38"/>
<circle cx="78.20" cy="128.81" r="1.38"/>
<circle cx="78.86" cy="128.95" r="1.38"/>
<circle cx="79.53" cy="127.13" r="1.38"/>
<circle cx="80.19" cy="124.40" r="1.38"/>
<circle cx="80.86" cy="128.32" r="1.38"/>
<circle cx="81.52" cy="131.89" r="1.38"/>
<circle cx="82.19" cy="131.40" r="1.38"/>
<circle cx="82.85" cy="144.40" r="1.38"/>
<circle cx="83.52" cy="151.42" r="1.38"/>
<circle cx="84.18" cy="151.40" r="1.38"/>
<circle cx="84.85" cy="155.50" r="1.38"/>
<circle cx="85.51" cy="156.69" r="1.38"/>
<circle cx="86.18" cy="155.40" r="1.38"/>
<circle cx="86.84" cy="159.92" r="1.38"/>
<circle cx="87.51" cy="164.33" r="1.38"/>
<circle cx="88.17" cy="163.40" r="1.38"/>
<circle cx="88.83" cy="169.66" r="1.38"/>
<circle cx="89.50" cy="170.47" r="1.38"/>
<circle cx="90.16" cy="165.40" r="1.38"/>
<circle cx="90.83" cy="168.90" r="1.38"/>
<circle cx="91.49" cy="171.35" r="1.38"/>
<circle cx="92.16" cy="172.33" r="1.38"/>
<circle cx="92.82" cy="171.07" r="1.38"/>
<circle cx="93.49" cy="158.50" r="1.38"/>
<circle cx="94.15" cy="173.36" r="1.38"/>
<circle cx="94.82" cy="167.29" r="1.38"/>
<circle cx="95.48" cy="173.36" r="1.38"/>
<circle cx="96.15" cy="167.40" r="1.38"/>
<circle cx="96.81" cy="170.53" r="1.38"/>
<circle cx="97.48" cy="172.61" r="1.38"/>
<circle cx="98.14" cy="171.89" r="1.38"/>
<circle cx="98.81" cy="167.73" r="1.38"/>
<circle cx="99.47" cy="171.14" r="1.38"/>
<circle cx="100.13" cy="166.40" r="1.38"/>
<circle cx="100.80" cy="168.74" r="1.38"/>
<circle cx="101.46" cy="171.80" r="1.38"/>
<circle cx="102.13" cy="168.97" r="1.38"/>
<circle cx="102.79" cy="170.04" r="1.38"/>
<circle cx="103.46" cy="170.81" r="1.38"/>
<circle cx="104.12" cy="171.32" r="1.38"/>
<circle cx="104.79" cy="165.40" r="1.38"/>
<circle cx="105.45" cy="165.36" r="1.38"/>
<circle cx="106.12" cy="168.12" r="1.38"/>
<circle cx="106.78" cy="168.29" r="1.38"/>
<circle cx="107.45" cy="165.30" r="1.38"/>
<circle cx="108.11" cy="168.57" r="1.38"/>
<circle cx="108.78" cy="168.90" r="1.38"/>
<circle cx="109.44" cy="170.31" r="1.38"/>
<circle cx="110.11" cy="164.40" r="1.38"/>
<circle cx="110.77" cy="162.40" r="1.38"/>
<circle cx="111.43" cy="165.52" r="1.38"/>
<circle cx="112.10" cy="170.82" r="1.38"/>
<circle cx="112.76" cy="169.43" r="1.38"/>
<circle cx="113.43" cy="171.40" r="1.38"/>
<circle cx="114.09" cy="174.41" r="1.38"/>
<circle cx="114.76" cy="170.20" r="1.38"/>
<circle cx="115.42" cy="173.12" r="1.38"/>
<circle cx="116.09" cy="172.28" r="1.38"/>
<circle cx="116.75" cy="164.40" r="1.38"/>
<circle cx="117.42" cy="168.19" r="1.38"/>
<circle cx="118.08" cy="170.14" r="1.38"/>
<circle cx="118.75" cy="171.49" r="1.38"/>
<circle cx="119.41" cy="166.68" r="1.38"/>
<circle cx="120.08" cy="166.05" r="1.38"/>
<circle cx="120.74" cy="165.00" r="1.38"/>
<circle cx="121.41" cy="171.69" r="1.38"/>
<circle cx="122.07" cy="167.24" r="1.38"/>
<circle cx="122.73" cy="169.48" r="1.38"/>
<circle cx="123.40" cy="171.95" r="1.38"/>
<circle cx="124.06" cy="167.40" r="1.38"/>
<circle cx="124.73" cy="168.76" r="1.38"/>
<circle cx="125.39" cy="172.40" r="1.38"/>
<circle cx="126.06" cy="173.57" r="1.38"/>
<circle cx="126.72" cy="171.93" r="1.38"/>
<circle cx="127.39" cy="169.40" r="1.38"/>
<circle cx="128.05" cy="168.40" r="1.38"/>
<circle cx="128.72" cy="169.08" r="1.38"/>
<circle cx="129.38" cy="171.57" r="1.38"/>
<circle cx="130.05" cy="165.03" r="1.38"/>
<circle cx="130.71" cy="163.00" r="1.38"/>
<circle cx="131.38" cy="165.64" r="1.38"/>
<circle cx="132.04" cy="163.74" r="1.38"/>
<circle cx="132.70" cy="137.40" r="1.38"/>
<circle cx="133.37" cy="136.08" r="1.38"/>
<circle cx="134.03" cy="136.94" r="1.38"/>
<circle cx="134.70" cy="135.48" r="1.38"/>
<circle cx="135.36" cy="130.93" r="1.38"/>
<circle cx="136.03" cy="125.40" r="1.38"/>
<circle cx="136.69" cy="127.49" r="1.38"/>
<circle cx="137.36" cy="129.08" r="1.38"/>
<circle cx="138.02" cy="131.31" r="1.38"/>
<circle cx="138.69" cy="124.40" r="1.38"/>
<circle cx="139.35" cy="126.68" r="1.38"/>
<circle cx="140.02" cy="126.17" r="1.38"/>
<circle cx="140.68" cy="133.02" r="1.38"/>
<circle cx="141.35" cy="134.80" r="1.38"/>
<circle cx="142.01" cy="129.40" r="1.38"/>
<circle cx="142.68" cy="131.99" r="1.38"/>
<circle cx="143.34" cy="129.88" r="1.38"/>
<circle cx="144.00" cy="125.31" r="1.38"/>
<circle cx="144.67" cy="124.39" r="1.38"/>
<circle cx="145.33" cy="114.40" r="1.38"/>
<circle cx="146.00" cy="118.13" r="1.38"/>
<circle cx="146.66" cy="121.22" r="1.38"/>
<circle cx="147.33" cy="123.17" r="1.38"/>
<circle cx="147.99" cy="125.40" r="1.38"/>
<circle cx="148.66" cy="121.67" r="1.38"/>
<circle cx="149.32" cy="122.17" r="1.38"/>
<circle cx="149.99" cy="113.40" r="1.38"/>
<circle cx="150.65" cy="118.37" r="1.38"/>
<circle cx="151.32" cy="121.26" r="1.38"/>
<circle cx="151.98" cy="122.10" r="1.38"/>
<circle cx="152.65" cy="122.40" r="1.38"/>
<circle cx="153.31" cy="120.17" r="1.38"/>
<circle cx="153.98" cy="114.28" r="1.38"/>
<circle cx="154.64" cy="112.86" r="1.38"/>
<circle cx="155.30" cy="101.40" r="1.38"/>
<circle cx="155.97" cy="104.75" r="1.38"/>
<circle cx="156.63" cy="109.48" r="1.38"/>
<circle cx="157.30" cy="113.25" r="1.38"/>
<circle cx="157.96" cy="114.40" r="1.38"/>
<circle cx="158.63" cy="121.46" r="1.38"/>
<circle cx="159.29" cy="121.49" r="1.38"/>
<circle cx="159.96" cy="116.40" r="1.38"/>
<circle cx="160.62" cy="115.10" r="1.38"/>
<circle cx="161.29" cy="109.98" r="1.38"/>
<circle cx="161.95" cy="107.36" r="1.38"/>
<circle cx="162.62" cy="101.40" r="1.38"/>
<circle cx="163.28" cy="106.27" r="1.38"/>
<circle cx="163.95" cy="110.24" r="1.38"/>
<circle cx="164.61" cy="107.48" r="1.38"/>
<circle cx="165.28" cy="105.40" r="1.38"/>
<circle cx="165.94" cy="104.20" r="1.38"/>
<circle cx="166.60" cy="97.40" r="1.38"/>
<circle cx="167.27" cy="92.40" r="1.38"/>
<circle cx="167.93" cy="83.40" r="1.38"/>
<circle cx="168.60" cy="85.83" r="1.38"/>
<circle cx="169.26" cy="76.40" r="1.38"/>
<circle cx="169.93" cy="76.23" r="1.38"/>
<circle cx="170.59" cy="77.36" r="1.38"/>
<circle cx="171.26" cy="76.07" r="1.38"/>
<circle cx="171.92" cy="74.12" r="1.38"/>
<circle cx="172.59" cy="68.40" r="1.38"/>
<circle cx="173.25" cy="76.07" r="1.38"/>
<circle cx="173.92" cy="76.60" r="1.38"/>
<circle cx="174.58" cy="70.40" r="1.38"/>
<circle cx="175.25" cy="75.26" r="1.38"/>
<circle cx="175.91" cy="71.94" r="1.38"/>
<circle cx="176.58" cy="79.13" r="1.38"/>
<circle cx="177.24" cy="78.50" r="1.38"/>
<circle cx="177.90" cy="73.40" r="1.38"/>
<circle cx="178.57" cy="81.00" r="1.38"/>
<circle cx="179.23" cy="77.40" r="1.38"/>
<circle cx="179.90" cy="97.40" r="1.38"/>
<circle cx="180.56" cy="105.89" r="1.38"/>
<circle cx="181.23" cy="109.40" r="1.38"/>
<circle cx="181.89" cy="123.44" r="1.38"/>
<circle cx="182.56" cy="130.40" r="1.38"/>
<circle cx="183.22" cy="131.74" r="1.38"/>
<circle cx="183.89" cy="130.08" r="1.38"/>
<circle cx="184.55" cy="126.17" r="1.38"/>
<circle cx="185.22" cy="124.40" r="1.38"/>
<circle cx="185.88" cy="122.41" r="1.38"/>
<circle cx="186.55" cy="110.40" r="1.38"/>
<circle cx="187.21" cy="106.60" r="1.38"/>
<circle cx="187.88" cy="101.40" r="1.38"/>
<circle cx="188.54" cy="88.40" r="1.38"/>
<circle cx="189.20" cy="94.43" r="1.38"/>
<circle cx="189.87" cy="88.90" r="1.38"/>
<circle cx="190.53" cy="90.12" r="1.38"/>
<circle cx="191.20" cy="87.40" r="1.38"/>
<circle cx="191.86" cy="85.90" r="1.38"/>
<circle cx="192.53" cy="91.67" r="1.38"/>
<circle cx="193.19" cy="93.40" r="1.38"/>
<circle cx="193.86" cy="120.40" r="1.38"/>
<circle cx="194.52" cy="81.40" r="1.38"/>
<circle cx="195.19" cy="71.40" r="1.38"/>
<circle cx="195.85" cy="72.44" r="1.38"/>
<circle cx="196.52" cy="76.53" r="1.38"/>
<circle cx="197.18" cy="74.45" r="1.38"/>
<circle cx="197.85" cy="77.82" r="1.38"/>
<circle cx="198.51" cy="76.60" r="1.38"/>
<circle cx="199.17" cy="73.00" r="1.38"/>
<circle cx="199.84" cy="76.40" r="1.38"/>
<circle cx="200.50" cy="84.87" r="1.38"/>
<circle cx="201.17" cy="92.40" r="1.38"/>
<circle cx="201.83" cy="102.40" r="1.38"/>
<circle cx="202.50" cy="159.40" r="1.38"/>
<circle cx="203.16" cy="160.86" r="1.38"/>
<circle cx="203.83" cy="151.40" r="1.38"/>
<circle cx="204.49" cy="155.93" r="1.38"/>
<circle cx="205.16" cy="151.54" r="1.38"/>
<circle cx="205.82" cy="144.40" r="1.38"/>
<circle cx="206.49" cy="146.43" r="1.38"/>
<circle cx="207.15" cy="134.40" r="1.38"/>
<circle cx="207.82" cy="130.69" r="1.38"/>
<circle cx="208.48" cy="132.12" r="1.38"/>
<circle cx="209.15" cy="124.40" r="1.38"/>
<circle cx="209.81" cy="124.50" r="1.38"/>
<circle cx="210.47" cy="126.11" r="1.38"/>
<circle cx="211.14" cy="120.27" r="1.38"/>
<circle cx="211.80" cy="115.40" r="1.38"/>
<circle cx="212.47" cy="127.88" r="1.38"/>
<circle cx="213.13" cy="132.40" r="1.38"/>
<circle cx="213.80" cy="154.40" r="1.38"/>
<circle cx="214.46" cy="162.90" r="1.38"/>
<circle cx="215.13" cy="165.40" r="1.38"/>
<circle cx="215.79" cy="168.63" r="1.38"/>
<circle cx="216.46" cy="167.25" r="1.38"/>
<circle cx="217.12" cy="166.40" r="1.38"/>
<circle cx="217.79" cy="170.40" r="1.38"/>
<circle cx="218.45" cy="170.88" r="1.38"/>
<circle cx="219.12" cy="174.17" r="1.38"/>
<circle cx="219.78" cy="167.40" r="1.38"/>
<circle cx="220.45" cy="173.35" r="1.38"/>
<circle cx="221.11" cy="169.17" r="1.38"/>
<circle cx="221.77" cy="164.60" r="1.38"/>
<circle cx="222.44" cy="169.65" r="1.38"/>
<circle cx="223.10" cy="164.48" r="1.38"/>
<circle cx="223.77" cy="160.40" r="1.38"/>
<circle cx="224.43" cy="163.85" r="1.38"/>
<circle cx="225.10" cy="160.50" r="1.38"/>
<circle cx="225.76" cy="160.26" r="1.38"/>
<circle cx="226.43" cy="160.23" r="1.38"/>
<circle cx="227.09" cy="159.98" r="1.38"/>
<circle cx="227.76" cy="158.40" r="1.38"/>
<circle cx="228.42" cy="158.87" r="1.38"/>
<circle cx="229.09" cy="165.40" r="1.38"/>
<circle cx="229.75" cy="159.62" r="1.38"/>
<circle cx="230.42" cy="162.76" r="1.38"/>
<circle cx="231.08" cy="159.40" r="1.38"/>
<circle cx="231.75" cy="162.02" r="1.38"/>
<circle cx="232.41" cy="166.86" r="1.38"/>
<circle cx="233.07" cy="162.40" r="1.38"/>
<circle cx="233.74" cy="166.43" r="1.38"/>
<circle cx="234.40" cy="163.84" r="1.38"/>
<circle cx="235.07" cy="171.46" r="1.38"/>
<circle cx="235.73" cy="165.40" r="1.38"/>
<circle cx="236.40" cy="168.92" r="1.38"/>
<circle cx="237.06" cy="171.30" r="1.38"/>
<circle cx="237.73" cy="169.40" r="1.38"/>
<circle cx="238.39" cy="174.57" r="1.38"/>
<circle cx="239.06" cy="172.08" r="1.38"/>
<circle cx="239.72" cy="166.40" r="1.38"/>
<circle cx="240.39" cy="172.24" r="1.38"/>
<circle cx="241.05" cy="172.48" r="1.38"/>
<circle cx="241.72" cy="172.50" r="1.38"/>
<circle cx="242.38" cy="171.42" r="1.38"/>
<circle cx="243.05" cy="166.40" r="1.38"/>
<circle cx="243.71" cy="161.40" r="1.38"/>
<circle cx="244.37" cy="137.40" r="1.38"/>
<circle cx="245.04" cy="139.82" r="1.38"/>
<circle cx="245.70" cy="140.96" r="1.38"/>
<circle cx="246.37" cy="135.64" r="1.38"/>
<circle cx="247.03" cy="137.47" r="1.38"/>
<circle cx="247.70" cy="134.28" r="1.38"/>
<circle cx="248.36" cy="135.94" r="1.38"/>
<circle cx="249.03" cy="129.40" r="1.38"/>
<circle cx="249.69" cy="132.67" r="1.38"/>
<circle cx="250.36" cy="129.99" r="1.38"/>
<circle cx="251.02" cy="130.68" r="1.38"/>
<circle cx="251.69" cy="135.68" r="1.38"/>
<circle cx="252.35" cy="131.28" r="1.38"/>
<circle cx="253.02" cy="129.00" r="1.38"/>
<circle cx="253.68" cy="133.67" r="1.38"/>
<circle cx="254.35" cy="131.25" r="1.38"/>
<circle cx="255.01" cy="137.50" r="1.38"/>
<circle cx="255.67" cy="133.40" r="1.38"/>
<circle cx="256.34" cy="138.17" r="1.38"/>
<circle cx="257.00" cy="130.45" r="1.38"/>
<circle cx="257.67" cy="133.11" r="1.38"/>
<circle cx="258.33" cy="127.56" r="1.38"/>
<circle cx="259.00" cy="124.40" r="1.38"/>
<circle cx="259.66" cy="130.41" r="1.38"/>
<circle cx="260.33" cy="126.48" r="1.38"/>
<circle cx="260.99" cy="127.01" r="1.38"/>
<circle cx="261.66" cy="126.93" r="1.38"/>
<circle cx="262.32" cy="121.40" r="1.38"/>
<circle cx="262.99" cy="127.03" r="1.38"/>
<circle cx="263.65" cy="127.38" r="1.38"/>
<circle cx="264.32" cy="121.91" r="1.38"/>
<circle cx="264.98" cy="124.48" r="1.38"/>
<circle cx="265.64" cy="122.47" r="1.38"/>
<circle cx="266.31" cy="120.40" r="1.38"/>
<circle cx="266.97" cy="123.85" r="1.38"/>
<circle cx="267.64" cy="129.45" r="1.38"/>
<circle cx="268.30" cy="133.63" r="1.38"/>
<circle cx="268.97" cy="130.40" r="1.38"/>
<circle cx="269.63" cy="126.72" r="1.38"/>
<circle cx="270.30" cy="127.15" r="1.38"/>
<circle cx="270.96" cy="116.40" r="1.38"/>
<circle cx="271.63" cy="120.80" r="1.38"/>
<circle cx="272.29" cy="117.30" r="1.38"/>
<circle cx="272.96" cy="112.40" r="1.38"/>
<circle cx="273.62" cy="119.09" r="1.38"/>
<circle cx="274.29" cy="121.27" r="1.38"/>
<circle cx="274.95" cy="117.40" r="1.38"/>
<circle cx="275.62" cy="124.15" r="1.38"/>
</g><g fill="#ff7f0e">
<circle cx="33.66" cy="118.81" r="1.38"/>
<circle cx="34.33" cy="122.83" r="1.38"/>
<circle cx="34.99" cy="116.21" r="1.38"/>
<circle cx="35.66" cy="122.77" r="1.38"/>
<circle cx="36.32" cy="123.12" r="1.38"/>
<circle cx="36.99" cy="119.14" r="1.38"/>
<circle cx="37.65" cy="118.79" r="1.38"/>
<circle cx="38.32" cy="113.91" r="1.38"/>
<circle cx="38.98" cy="114.79" r="1.38"/>
<circle cx="39.65" cy="119.32" r="1.38"/>
<circle cx="40.31" cy="114.92" r="1.38"/>
<circle cx="40.98" cy="123.53" r="1.38"/>
<circle cx="41.64" cy="124.59" r="1.38"/>
<circle cx="42.31" cy="119.38" r="1.38"/>
<circle cx="42.97" cy="124.87" r="1.38"/>
<circle cx="43.64" cy="130.37" r="1.38"/>
<circle cx="44.30" cy="124.61" r="1.38"/>
<circle cx="44.96" cy="128.43" r="1.38"/>
<circle cx="45.63" cy="135.63" r="1.38"/>
<circle cx="46.29" cy="126.28" r="1.38"/>
<circle cx="46.96" cy="132.52" r="1.38"/>
<circle cx="47.62" cy="135.67" r="1.38"/>
<circle cx="48.29" cy="128.00" r="1.38"/>
<circle cx="48.95" cy="133.68" r="1.38"/>
<circle cx="49.62" cy="134.21" r="1.38"/>
<circle cx="50.28" cy="127.16" r="1.38"/>
<circle cx="50.95" cy="136.73" r="1.38"/>
<circle cx="51.61" cy="140.04" r="1.38"/>
<circle cx="52.28" cy="137.40" r="1.38"/>
<circle cx="52.94" cy="146.83" r="1.38"/>
<circle cx="53.61" cy="150.40" r="1.38"/>
<circle cx="54.27" cy="159.08" r="1.38"/>
<circle cx="54.94" cy="159.73" r="1.38"/>
<circle cx="55.60" cy="162.35" r="1.38"/>
<circle cx="56.26" cy="162.09" r="1.38"/>
<circle cx="56.93" cy="155.40" r="1.38"/>
<circle cx="57.59" cy="157.10" r="1.38"/>
<circle cx="58.26" cy="149.45" r="1.38"/>
<circle cx="58.92" cy="145.47" r="1.38"/>
<circle cx="59.59" cy="140.85" r="1.38"/>
<circle cx="60.25" cy="130.02" r="1.38"/>
<circle cx="60.92" cy="135.08" r="1.38"/>
<circle cx="61.58" cy="135.82" r="1.38"/>
<circle cx="62.25" cy="126.23" r="1.38"/>
<circle cx="62.91" cy="131.20" r="1.38"/>
<circle cx="63.58" cy="135.61" r="1.38"/>
<circle cx="64.24" cy="136.13" r="1.38"/>
<circle cx="64.91" cy="133.40" r="1.38"/>
<circle cx="65.57" cy="137.69" r="1.38"/>
<circle cx="66.23" cy="138.37" r="1.38"/>
<circle cx="66.90" cy="133.46" r="1.38"/>
<circle cx="67.56" cy="136.80" r="1.38"/>
<circle cx="68.23" cy="137.14" r="1.38"/>
<circle cx="68.89" cy="135.41" r="1.38"/>
<circle cx="69.56" cy="130.14" r="1.38"/>
<circle cx="70.22" cy="128.71" r="1.38"/>
<circle cx="70.89" cy="126.40" r="1.38"/>
<circle cx="71.55" cy="132.91" r="1.38"/>
<circle cx="72.22" cy="131.19" r="1.38"/>
<circle cx="72.88" cy="131.69" r="1.38"/>
<circle cx="73.55" cy="133.13" r="1.38"/>
<circle cx="74.21" cy="120.67" r="1.38"/>
<circle cx="74.88" cy="126.43" r="1.38"/>
<circle cx="75.54" cy="125.54" r="1.38"/>
<circle cx="76.21" cy="124.76" r="1.38"/>
<circle cx="76.87" cy="127.74" r="1.38"/>
<circle cx="77.53" cy="136.40" r="1.38"/>
<circle cx="78.20" cy="135.14" r="1.38"/>
<circle cx="78.86" cy="133.89" r="1.38"/>
<circle cx="79.53" cy="132.19" r="1.38"/>
<circle cx="80.19" cy="130.40" r="1.38"/>
<circle cx="80.86" cy="135.85" r="1.38"/>
<circle cx="81.52" cy="135.65" r="1.38"/>
<circle cx="82.19" cy="135.77" r="1.38"/>
<circle cx="82.85" cy="149.45" r="1.38"/>
<circle cx="83.52" cy="155.61" r="1.38"/>
<circle cx="84.18" cy="157.40" r="1.38"/>
<circle cx="84.85" cy="159.73" r="1.38"/>
<circle cx="85.51" cy="162.86" r="1.38"/>
<circle cx="86.18" cy="161.40" r="1.38"/>
<circle cx="86.84" cy="167.59" r="1.38"/>
<circle cx="87.51" cy="167.87" r="1.38"/>
<circle cx="88.17" cy="167.54" r="1.38"/>
<circle cx="88.83" cy="174.93" r="1.38"/>
<circle cx="89.50" cy="177.03" r="1.38"/>
<circle cx="90.16" cy="170.53" r="1.38"/>
<circle cx="90.83" cy="173.28" r="1.38"/>
<circle cx="91.49" cy="176.24" r="1.38"/>
<circle cx="92.16" cy="176.45" r="1.38"/>
<circle cx="92.82" cy="178.81" r="1.38"/>
<circle cx="93.49" cy="179.00" r="1.38"/>
<circle cx="94.15" cy="178.62" r="1.38"/>
<circle cx="94.82" cy="174.14" r="1.38"/>
<circle cx="95.48" cy="179.22" r="1.38"/>
<circle cx="96.15" cy="173.29" r="1.38"/>
<circle cx="96.81" cy="175.55" r="1.38"/>
<circle cx="97.48" cy="178.29" r="1.38"/>
<circle cx="98.14" cy="180.31" r="1.38"/>
<circle cx="98.81" cy="175.04" r="1.38"/>
<circle cx="99.47" cy="178.70" r="1.38"/>
<circle cx="100.13" cy="170.08" r="1.38"/>
<circle cx="100.80" cy="174.51" r="1.38"/>
<circle cx="101.46" cy="176.81" r="1.38"/>
<circle cx="102.13" cy="172.46" r="1.38"/>
<circle cx="102.79" cy="175.21" r="1.38"/>
<circle cx="103.46" cy="174.21" r="1.38"/>
<circle cx="104.12" cy="175.61" r="1.38"/>
<circle cx="104.79" cy="171.40" r="1.38"/>
<circle cx="105.45" cy="172.13" r="1.38"/>
<circle cx="106.12" cy="174.96" r="1.38"/>
<circle cx="106.78" cy="171.72" r="1.38"/>
<circle cx="107.45" cy="169.20" r="1.38"/>
<circle cx="108.11" cy="171.69" r="1.38"/>
<circle cx="108.78" cy="172.44" r="1.38"/>
<circle cx="109.44" cy="173.87" r="1.38"/>
<circle cx="110.11" cy="170.40" r="1.38"/>
<circle cx="110.77" cy="168.40" r="1.38"/>
<circle cx="111.43" cy="169.64" r="1.38"/>
<circle cx="112.10" cy="175.22" r="1.38"/>
<circle cx="112.76" cy="177.72" r="1.38"/>
<circle cx="113.43" cy="177.40" r="1.38"/>
<circle cx="114.09" cy="179.44" r="1.38"/>
<circle cx="114.76" cy="175.77" r="1.38"/>
<circle cx="115.42" cy="177.62" r="1.38"/>
<circle cx="116.09" cy="178.49" r="1.38"/>
<circle cx="116.75" cy="170.40" r="1.38"/>
<circle cx="117.42" cy="174.03" r="1.38"/>
<circle cx="118.08" cy="177.65" r="1.38"/>
<circle cx="118.75" cy="175.11" r="1.38"/>
<circle cx="119.41" cy="173.00" r="1.38"/>
<circle cx="120.08" cy="174.49" r="1.38"/>
<circle cx="120.74" cy="168.82" r="1.38"/>
<circle cx="121.41" cy="177.41" r="1.38"/>
<circle cx="122.07" cy="173.70" r="1.38"/>
<circle cx="122.73" cy="174.33" r="1.38"/>
<circle cx="123.40" cy="180.26" r="1.38"/>
<circle cx="124.06" cy="173.07" r="1.38"/>
<circle cx="124.73" cy="174.39" r="1.38"/>
<circle cx="125.39" cy="180.37" r="1.38"/>
<circle cx="126.06" cy="176.66" r="1.38"/>
<circle cx="126.72" cy="179.71" r="1.38"/>
<circle cx="127.39" cy="173.11" r="1.38"/>
<circle cx="128.05" cy="173.49" r="1.38"/>
<circle cx="128.72" cy="174.77" r="1.38"/>
<circle cx="129.38" cy="177.19" r="1.38"/>
<circle cx="130.05" cy="168.25" r="1.38"/>
<circle cx="130.71" cy="167.74" r="1.38"/>
<circle cx="131.38" cy="170.60" r="1.38"/>
<circle cx="132.04" cy="172.00" r="1.38"/>
<circle cx="132.70" cy="143.40" r="1.38"/>
<circle cx="133.37" cy="142.30" r="1.38"/>
<circle cx="134.03" cy="145.07" r="1.38"/>
<circle cx="134.70" cy="143.23" r="1.38"/>
<circle cx="135.36" cy="136.00" r="1.38"/>
<circle cx="136.03" cy="129.04" r="1.38"/>
<circle cx="136.69" cy="133.83" r="1.38"/>
<circle cx="137.36" cy="133.86" r="1.38"/>
<circle cx="138.02" cy="134.36" r="1.38"/>
<circle cx="138.69" cy="130.40" r="1.38"/>
<circle cx="139.35" cy="135.01" r="1.38"/>
<circle cx="140.02" cy="132.12" r="1.38"/>
<circle cx="140.68" cy="139.42" r="1.38"/>
<circle cx="141.35" cy="141.48" r="1.38"/>
<circle cx="142.01" cy="135.40" r="1.38"/>
<circle cx="142.68" cy="137.56" r="1.38"/>
<circle cx="143.34" cy="136.09" r="1.38"/>
<circle cx="144.00" cy="129.56" r="1.38"/>
<circle cx="144.67" cy="128.72" r="1.38"/>
<circle cx="145.33" cy="120.27" r="1.38"/>
<circle cx="146.00" cy="122.39" r="1.38"/>
<circle cx="146.66" cy="124.38" r="1.38"/>
<circle cx="147.33" cy="128.19" r="1.38"/>
<circle cx="147.99" cy="131.40" r="1.38"/>
<circle cx="148.66" cy="126.19" r="1.38"/>
<circle cx="149.32" cy="129.92" r="1.38"/>
<circle cx="149.99" cy="119.40" r="1.38"/>
<circle cx="150.65" cy="124.96" r="1.38"/>
<circle cx="151.32" cy="129.17" r="1.38"/>
<circle cx="151.98" cy="125.51" r="1.38"/>
<circle cx="152.65" cy="126.38" r="1.38"/>
<circle cx="153.31" cy="128.17" r="1.38"/>
<circle cx="153.98" cy="122.27" r="1.38"/>
<circle cx="154.64" cy="116.29" r="1.38"/>
<circle cx="155.30" cy="107.40" r="1.38"/>
<circle cx="155.97" cy="107.83" r="1.38"/>
<circle cx="156.63" cy="113.23" r="1.38"/>
<circle cx="157.30" cy="116.85" r="1.38"/>
<circle cx="157.96" cy="119.02" r="1.38"/>
<circle cx="158.63" cy="126.59" r="1.38"/>
<circle cx="159.29" cy="129.50" r="1.38"/>
<circle cx="159.96" cy="121.80" r="1.38"/>
<circle cx="160.62" cy="118.78" r="1.38"/>
<circle cx="161.29" cy="114.48" r="1.38"/>
<circle cx="161.95" cy="110.39" r="1.38"/>
<circle cx="162.62" cy="104.55" r="1.38"/>
<circle cx="163.28" cy="111.64" r="1.38"/>
<circle cx="163.95" cy="116.05" r="1.38"/>
<circle cx="164.61" cy="111.85" r="1.38"/>
<circle cx="165.28" cy="110.49" r="1.38"/>
<circle cx="165.94" cy="107.77" r="1.38"/>
<circle cx="166.60" cy="103.40" r="1.38"/>
<circle cx="167.27" cy="97.56" r="1.38"/>
<circle cx="167.93" cy="87.29" r="1.38"/>
<circle cx="168.60" cy="91.57" r="1.38"/>
<circle cx="169.26" cy="80.55" r="1.38"/>
<circle cx="169.93" cy="80.84" r="1.38"/>
<circle cx="170.59" cy="81.04" r="1.38"/>
<circle cx="171.26" cy="83.37" r="1.38"/>
<circle cx="171.92" cy="78.66" r="1.38"/>
<circle cx="172.59" cy="74.40" r="1.38"/>
<circle cx="173.25" cy="81.30" r="1.38"/>
<circle cx="173.92" cy="80.46" r="1.38"/>
<circle cx="174.58" cy="76.40" r="1.38"/>
<circle cx="175.25" cy="82.29" r="1.38"/>
<circle cx="175.91" cy="79.78" r="1.38"/>
<circle cx="176.58" cy="82.86" r="1.38"/>
<circle cx="177.24" cy="85.84" r="1.38"/>
<circle cx="177.90" cy="79.40" r="1.38"/>
<circle cx="178.57" cy="85.68" r="1.38"/>
<circle cx="179.23" cy="82.90" r="1.38"/>
<circle cx="179.90" cy="103.40" r="1.38"/>
<circle cx="180.56" cy="110.24" r="1.38"/>
<circle cx="181.23" cy="115.40" r="1.38"/>
<circle cx="181.89" cy="130.28" r="1.38"/>
<circle cx="182.56" cy="136.40" r="1.38"/>
<circle cx="183.22" cy="137.21" r="1.38"/>
<circle cx="183.89" cy="135.94" r="1.38"/>
<circle cx="184.55" cy="130.24" r="1.38"/>
<circle cx="185.22" cy="129.13" r="1.38"/>
<circle cx="185.88" cy="129.42" r="1.38"/>
<circle cx="186.55" cy="116.40" r="1.38"/>
<circle cx="187.21" cy="110.44" r="1.38"/>
<circle cx="187.88" cy="104.68" r="1.38"/>
<circle cx="188.54" cy="91.77" r="1.38"/>
<circle cx="189.20" cy="99.82" r="1.38"/>
<circle cx="189.87" cy="94.90" r="1.38"/>
<circle cx="190.53" cy="94.36" r="1.38"/>
<circle cx="191.20" cy="93.02" r="1.38"/>
<circle cx="191.86" cy="91.73" r="1.38"/>
<circle cx="192.53" cy="99.28" r="1.38"/>
<circle cx="193.19" cy="97.30" r="1.38"/>
<circle cx="193.86" cy="123.48" r="1.38"/>
<circle cx="194.52" cy="87.19" r="1.38"/>
<circle cx="195.19" cy="76.35" r="1.38"/>
<circle cx="195.85" cy="77.04" r="1.38"/>
<circle cx="196.52" cy="83.78" r="1.38"/>
<circle cx="197.18" cy="81.20" r="1.38"/>
<circle cx="197.85" cy="81.28" r="1.38"/>
<circle cx="198.51" cy="82.62" r="1.38"/>
<circle cx="199.17" cy="79.00" r="1.38"/>
<circle cx="199.84" cy="82.40" r="1.38"/>
<circle cx="200.50" cy="87.87" r="1.38"/>
<circle cx="201.17" cy="98.40" r="1.38"/>
<circle cx="201.83" cy="105.64" r="1.38"/>
<circle cx="202.50" cy="165.40" r="1.38"/>
<circle cx="203.16" cy="167.15" r="1.38"/>
<circle cx="203.83" cy="157.40" r="1.38"/>
<circle cx="204.49" cy="162.41" r="1.38"/>
<circle cx="205.16" cy="154.92" r="1.38"/>
<circle cx="205.82" cy="150.40" r="1.38"/>
<circle cx="206.49" cy="150.83" r="1.38"/>
<circle cx="207.15" cy="140.40" r="1.38"/>
<circle cx="207.82" cy="133.86" r="1.38"/>
<circle cx="208.48" cy="136.91" r="1.38"/>
<circle cx="209.15" cy="130.40" r="1.38"/>
<circle cx="209.81" cy="128.36" r="1.38"/>
<circle cx="210.47" cy="132.67" r="1.38"/>
<circle cx="211.14" cy="127.11" r="1.38"/>
<circle cx="211.80" cy="121.40" r="1.38"/>
<circle cx="212.47" cy="135.70" r="1.38"/>
<circle cx="213.13" cy="137.67" r="1.38"/>
<circle cx="213.80" cy="158.18" r="1.38"/>
<circle cx="214.46" cy="167.33" r="1.38"/>
<circle cx="215.13" cy="170.54" r="1.38"/>
<circle cx="215.79" cy="171.93" r="1.38"/>
<circle cx="216.46" cy="174.15" r="1.38"/>
<circle cx="217.12" cy="169.75" r="1.38"/>
<circle cx="217.79" cy="173.72" r="1.38"/>
<circle cx="218.45" cy="179.01" r="1.38"/>
<circle cx="219.12" cy="181.61" r="1.38"/>
<circle cx="219.78" cy="171.80" r="1.38"/>
<circle cx="220.45" cy="178.23" r="1.38"/>
<circle cx="221.11" cy="176.71" r="1.38"/>
<circle cx="221.77" cy="171.00" r="1.38"/>
<circle cx="222.44" cy="174.10" r="1.38"/>
<circle cx="223.10" cy="169.94" r="1.38"/>
<circle cx="223.77" cy="166.40" r="1.38"/>
<circle cx="224.43" cy="166.85" r="1.38"/>
<circle cx="225.10" cy="168.96" r="1.38"/>
<circle cx="225.76" cy="166.37" r="1.38"/>
<circle cx="226.43" cy="164.23" r="1.38"/>
<circle cx="227.09" cy="167.38" r="1.38"/>
<circle cx="227.76" cy="161.82" r="1.38"/>
<circle cx="228.42" cy="164.12" r="1.38"/>
<circle cx="229.09" cy="171.55" r="1.38"/>
<circle cx="229.75" cy="163.98" r="1.38"/>
<circle cx="230.42" cy="170.63" r="1.38"/>
<circle cx="231.08" cy="165.40" r="1.38"/>
<circle cx="231.75" cy="165.91" r="1.38"/>
<circle cx="232.41" cy="170.70" r="1.38"/>
<circle cx="233.07" cy="165.74" r="1.38"/>
<circle cx="233.74" cy="172.57" r="1.38"/>
<circle cx="234.40" cy="167.87" r="1.38"/>
<circle cx="235.07" cy="177.45" r="1.38"/>
<circle cx="235.73" cy="171.40" r="1.38"/>
<circle cx="236.40" cy="176.76" r="1.38"/>
<circle cx="237.06" cy="174.94" r="1.38"/>
<circle cx="237.73" cy="174.23" r="1.38"/>
<circle cx="238.39" cy="179.87" r="1.38"/>
<circle cx="239.06" cy="177.19" r="1.38"/>
<circle cx="239.72" cy="171.70" r="1.38"/>
<circle cx="240.39" cy="177.77" r="1.38"/>
<circle cx="241.05" cy="179.64" r="1.38"/>
<circle cx="241.72" cy="177.18" r="1.38"/>
<circle cx="242.38" cy="176.31" r="1.38"/>
<circle cx="243.05" cy="171.55" r="1.38"/>
<circle cx="243.71" cy="165.23" r="1.38"/>
<circle cx="244.37" cy="143.40" r="1.38"/>
<circle cx="245.04" cy="145.02" r="1.38"/>
<circle cx="245.70" cy="149.00" r="1.38"/>
<circle cx="246.37" cy="143.16" r="1.38"/>
<circle cx="247.03" cy="141.74" r="1.38"/>
<circle cx="247.70" cy="138.62" r="1.38"/>
<circle cx="248.36" cy="143.24" r="1.38"/>
<circle cx="249.03" cy="135.40" r="1.38"/>
<circle cx="249.69" cy="135.72" r="1.38"/>
<circle cx="250.36" cy="136.45" r="1.38"/>
<circle cx="251.02" cy="135.85" r="1.38"/>
<circle cx="251.69" cy="143.00" r="1.38"/>
<circle cx="252.35" cy="138.38" r="1.38"/>
<circle cx="253.02" cy="135.00" r="1.38"/>
<circle cx="253.68" cy="140.51" r="1.38"/>
<circle cx="254.35" cy="139.27" r="1.38"/>
<circle cx="255.01" cy="142.06" r="1.38"/>
<circle cx="255.67" cy="138.26" r="1.38"/>
<circle cx="256.34" cy="141.50" r="1.38"/>
<circle cx="257.00" cy="138.22" r="1.38"/>
<circle cx="257.67" cy="136.96" r="1.38"/>
<circle cx="258.33" cy="133.59" r="1.38"/>
<circle cx="259.00" cy="130.20" r="1.38"/>
<circle cx="259.66" cy="137.88" r="1.38"/>
<circle cx="260.33" cy="131.61" r="1.38"/>
<circle cx="260.99" cy="130.79" r="1.38"/>
<circle cx="261.66" cy="132.04" r="1.38"/>
<circle cx="262.32" cy="124.66" r="1.38"/>
<circle cx="262.99" cy="131.68" r="1.38"/>
<circle cx="263.65" cy="133.85" r="1.38"/>
<circle cx="264.32" cy="125.22" r="1.38"/>
<circle cx="264.98" cy="132.92" r="1.38"/>
<circle cx="265.64" cy="128.42" r="1.38"/>
<circle cx="266.31" cy="125.05" r="1.38"/>
<circle cx="266.97" cy="131.43" r="1.38"/>
<circle cx="267.64" cy="133.21" r="1.38"/>
<circle cx="268.30" cy="138.40" r="1.38"/>
<circle cx="268.97" cy="136.40" r="1.38"/>
<circle cx="269.63" cy="131.04" r="1.38"/>
<circle cx="270.30" cy="134.18" r="1.38"/>
<circle cx="270.96" cy="119.85" r="1.38"/>
<circle cx="271.63" cy="126.73" r="1.38"/>
<circle cx="272.29" cy="123.92" r="1.38"/>
<circle cx="272.96" cy="116.55" r="1.38"/>
<circle cx="273.62" cy="123.89" r="1.38"/>
<circle cx="274.29" cy="127.30" r="1.38"/>
<circle cx="274.95" cy="123.40" r="1.38"/>
<circle cx="275.62" cy="128.00" r="1.38"/>
</g>
<g stroke="#161616" stroke-width="1.1" fill="none">
<rect x="32.6" y="21.0" width="242.9" height="179.4"/>
<path d="M33.00 200.4v3.7M33.00 21.0v3.7M52.94 200.4v1.9M52.94 21.0v1.9M72.88 200.4v1.9M72.88 21.0v1.9M92.82 200.4v3.7M92.82 21.0v3.7M112.76 200.4v1.9M112.76 21.0v1.9M132.70 200.4v1.9M132.70 21.0v1.9M152.65 200.4v3.7M152.65 21.0v3.7M172.59 200.4v1.9M172.59 21.0v1.9M192.53 200.4v1.9M192.53 21.0v1.9M212.47 200.4v3.7M212.47 21.0v3.7M232.41 200.4v1.9M232.41 21.0v1.9M252.35 200.4v1.9M252.35 21.0v1.9M272.29 200.4v3.7M272.29 21.0v3.7M32.6 200.30h-3.7M275.5 200.30h-3.7M32.6 185.38h-1.9M275.5 185.38h-1.9M32.6 170.45h-3.7M275.5 170.45h-3.7M32.6 155.53h-1.9M275.5 155.53h-1.9M32.6 140.60h-3.7M275.5 140.60h-3.7M32.6 125.68h-1.9M275.5 125.68h-1.9M32.6 110.75h-3.7M275.5 110.75h-3.7M32.6 95.83h-1.9M275.5 95.83h-1.9M32.6 80.90h-3.7M275.5 80.90h-3.7M32.6 65.98h-1.9M275.5 65.98h-1.9M32.6 51.05h-3.7M275.5 51.05h-3.7M32.6 36.13h-1.9M275.5 36.13h-1.9M32.6 21.20h-3.7M275.5 21.20h-3.7"/>
<path d="M33.2 200.4H275" stroke="#fca756" stroke-opacity="0.5"/>
</g>
<g font-family="'Liberation Serif', 'Times New Roman', serif" fill="#151515">
<text x="33.0" y="212.6" font-size="7.3" text-anchor="middle">0</text>
<text x="92.8" y="212.6" font-size="7.3" text-anchor="middle">90</text>
<text x="152.6" y="212.6" font-size="7.3" text-anchor="middle">180</text>
<text x="212.5" y="212.6" font-size="7.3" text-anchor="middle">270</text>
<text x="272.3" y="212.6" font-size="7.3" text-anchor="middle">360</text>
<text x="26.3" y="202.8" font-size="7.3" text-anchor="end">10</text>
<text x="26.3" y="173.0" font-size="7.3" text-anchor="end">15</text>
<text x="26.3" y="143.1" font-size="7.3" text-anchor="end">20</text>
<text x="26.3" y="113.3" font-size="7.3" text-anchor="end">25</text>
<text x="26.3" y="83.4" font-size="7.3" text-anchor="end">30</text>
<text x="26.3" y="53.6" font-size="7.3" text-anchor="end">35</text>
<text x="26.3" y="23.7" font-size="7.3" text-anchor="end">40</text>
<text x="28.6" y="16.2" font-size="7.3">×10<tspan dy="-3" font-size="5.6">3</tspan></text>
<text x="154" y="223.6" font-size="9.6" text-anchor="middle">Serial number</text>
<text transform="translate(15 110.5) rotate(-90)" font-size="9.63" text-anchor="middle">Daily operating expenses (yuan)</text>
<rect x="183.4" y="29.2" width="86" height="25.6" fill="#bbb" opacity="0.35"/>
<rect x="182.4" y="27.9" width="85.6" height="25.5" fill="#fff" stroke="#777" stroke-width="0.8"/>
<circle cx="194.2" cy="35.3" r="1.25" fill="#1a6fb3"/><circle cx="194.2" cy="46.9" r="1.25" fill="#ff7f0e"/>
<text x="207.6" y="38.4" font-size="9.45">FCM</text>
<text x="207.6" y="50.3" font-size="9.45">Improved FCM</text>
<text x="142.7" y="243.8" font-size="12.2" text-anchor="middle">(<tspan font-weight="bold">a</tspan>)</text>
</g>
<g stroke="#1a1a1a" stroke-width="0.6">
<rect x="331.3" y="73.4" width="88.8" height="111.2" fill="#0868ad"/>
<rect x="331.3" y="182.8" width="88.8" height="18.4" fill="#ff7f0e"/>
<rect x="442.4" y="66.2" width="89" height="114.2" fill="#0868ad"/>
<rect x="442.4" y="180.4" width="89" height="20.8" fill="#ff7f0e"/>
</g>
<g stroke="#161616" stroke-width="1.1" fill="none">
<rect x="320.3" y="22.0" width="222.3" height="179.2"/>
<path d="M375.6 201.2v3.8M375.6 22.0v3.8M431.2 201.2v2.0M431.2 22.0v2.0M486.8 201.2v3.8M486.8 22.0v3.8M320.3 201.20h-3.9M320.3 186.27h-2.0M320.3 171.33h-2.0M320.3 156.40h-3.9M320.3 141.47h-2.0M320.3 126.53h-2.0M320.3 111.60h-3.9M320.3 96.67h-2.0M320.3 81.73h-2.0M320.3 66.80h-3.9M320.3 51.87h-2.0M320.3 36.93h-2.0M320.3 22.00h-3.9M542.6 22.00h-2.2M542.6 41.91h-2.2M542.6 61.82h-2.2M542.6 81.73h-2.2M542.6 101.64h-2.2M542.6 121.56h-2.2M542.6 141.47h-2.2M542.6 161.38h-2.2M542.6 181.29h-2.2M542.6 201.20h-2.2"/>
</g>
<g font-family="'Liberation Serif', 'Times New Roman', serif" fill="#151515">
<text x="313.6" y="203.9" font-size="7.8" text-anchor="end">0</text>
<text x="313.6" y="159.1" font-size="7.8" text-anchor="end">3</text>
<text x="313.6" y="114.3" font-size="7.8" text-anchor="end">6</text>
<text x="313.6" y="69.5" font-size="7.8" text-anchor="end">9</text>
<text x="313.6" y="24.7" font-size="7.8" text-anchor="end">12</text>
<text x="313" y="17" font-size="8">×10<tspan dy="-3" font-size="5.6">6</tspan></text>
<text x="372.8" y="216.8" font-size="10.1" text-anchor="middle">Improved FCM</text>
<text x="486" y="216.8" font-size="10" text-anchor="middle">FCM</text>
<text transform="translate(303.2 113.3) rotate(-90)" font-size="10.25" text-anchor="middle">Cost (yuan)</text>
<rect x="362" y="30.6" width="158.6" height="26" fill="#bbb" opacity="0.35"/>
<rect x="361" y="29.3" width="158.6" height="26.3" fill="#fff" stroke="#777" stroke-width="0.8"/>
<rect x="362.6" y="31.2" width="21.8" height="10.2" fill="#0868ad" stroke="#1a1a1a" stroke-width="0.6"/>
<rect x="362.6" y="43.6" width="21.8" height="10.6" fill="#ff7f0e" stroke="#1a1a1a" stroke-width="0.6"/>
<text x="387.8" y="39.8" font-size="10.1">Annual operating cost</text>
<text x="387.8" y="52.9" font-size="10.1">Average annual investment cost</text>
<text x="417.8" y="243.8" font-size="12.4" text-anchor="middle">(<tspan font-weight="bold">b</tspan>)</text>
</g>
</svg>
</body></html>
